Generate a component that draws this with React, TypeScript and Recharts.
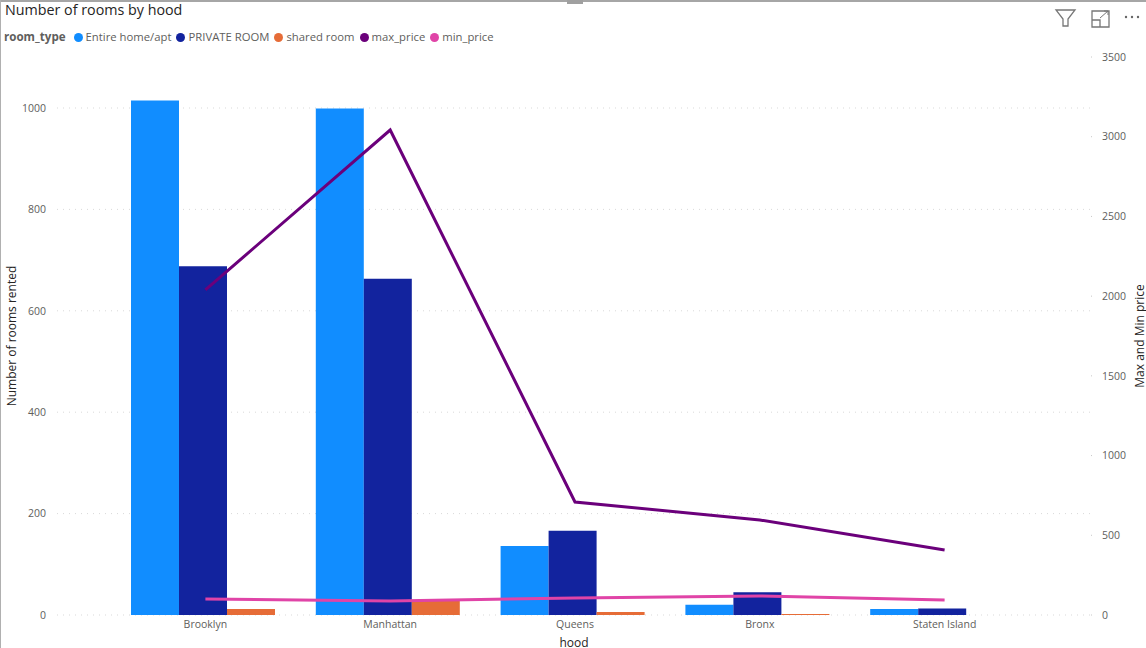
import {
  ComposedChart,
  Bar,
  Line,
  XAxis,
  YAxis,
  CartesianGrid
} from 'recharts'

const HOODS = ['Brooklyn', 'Manhattan', 'Queens', 'Bronx', 'Staten Island']
const ENTIRE_HOME = [1015, 999, 136, 20, 12]
const PRIVATE_ROOM = [688, 663, 166, 45, 13]
const SHARED_ROOM = [12, 28, 6, 2, 0]
const MAX_PRICE = [2039, 3042, 709, 596, 408]
const MIN_PRICE = [100, 88, 107, 119, 94]

const ROOM_TICKS = [0, 200, 400, 600, 800, 1000]
const PRICE_TICKS = [0, 500, 1000, 1500, 2000, 2500, 3000, 3500]

const LEGEND_NAMES = ['Entire home/apt', 'PRIVATE ROOM', 'shared room', 'max_price', 'min_price']
const LEGEND_COLORS = ['#118DFF', '#12239E', '#E66C37', '#6B007B', '#E044A7']

const FONT = '"Open Sans", "Noto Sans", sans-serif'

const chartData = HOODS.map((hood, i) => ({
  hood,
  entire: ENTIRE_HOME[i],
  privateRoom: PRIVATE_ROOM[i],
  shared: SHARED_ROOM[i],
  maxPrice: MAX_PRICE[i],
  minPrice: MIN_PRICE[i]
}))

function HeaderIcons() {
  return (
    <svg width={90} height={24} style={{ position: 'absolute', left: 1054, top: 6 }}>
      <path d="M2 4 H21 L14 13 V20 H9 V13 Z" fill="none" stroke="#777" strokeWidth={1.3} />
      <path d="M38 5 H55 V21 H38 Z M38 14 H46 V21" fill="none" stroke="#777" strokeWidth={1.3} />
      <path d="M46 12 L54 5 M50 5 H54 V9" fill="none" stroke="#777" strokeWidth={1} />
      <circle cx={72} cy={11} r={1.2} fill="#666" />
      <circle cx={78} cy={11} r={1.2} fill="#666" />
      <circle cx={84} cy={11} r={1.2} fill="#666" />
    </svg>
  )
}

export default function App() {
  return (
    <div
      style={{
        position: 'absolute',
        left: 0,
        top: 0,
        width: 1146,
        height: 648,
        overflow: 'hidden',
        background: '#fff',
        fontFamily: FONT
      }}
    >
      <div style={{ position: 'absolute', left: 0, top: 0, width: 1146, height: 2, background: '#a6a6a6' }} />
      <div style={{ position: 'absolute', left: 0, top: 0, width: 1, height: 648, background: '#b0b0b0' }} />
      <div style={{ position: 'absolute', left: 567, top: 0, width: 16, height: 4, background: '#a0a0a0' }} />

      <div style={{ position: 'absolute', left: 5, top: 0, fontSize: 14.3, lineHeight: '20px', color: '#252423' }}>
        Number of rooms by hood
      </div>

      <div
        style={{
          position: 'absolute',
          left: 4,
          top: 28,
          display: 'flex',
          alignItems: 'center',
          fontSize: 11.3,
          lineHeight: '18px',
          color: '#605E5C',
          whiteSpace: 'nowrap'
        }}
      >
        <span style={{ fontWeight: 700, fontSize: 11.6, marginRight: 8 }}>room_type</span>
        {LEGEND_NAMES.map((name, i) => (
          <span key={name} style={{ display: 'flex', alignItems: 'center', marginRight: 5 }}>
            <span
              style={{
                width: 9,
                height: 9,
                borderRadius: '50%',
                background: LEGEND_COLORS[i],
                marginRight: 3
              }}
            />
            {name}
          </span>
        ))}
      </div>

      <HeaderIcons />

      <ComposedChart
        width={1146}
        height={648}
        data={chartData}
        margin={{ top: 57, right: 0, bottom: 0, left: 0 }}
        barCategoryGap={21}
        barGap={0}
      >
        <CartesianGrid
          yAxisId="rooms"
          vertical={false}
          stroke="#d9d9d9"
          strokeDasharray="1 5"
          syncWithTicks
        />
        <XAxis
          dataKey="hood"
          height={33}
          padding={{ left: 56, right: 54 }}
          axisLine={false}
          tickLine={false}
          interval={0}
          tickMargin={0}
          tick={{ fontSize: 10.5, fill: '#605E5C', fontFamily: FONT }}
          label={{ value: 'hood', position: 'insideBottom', offset: 1, fontSize: 12, fill: '#252423', fontFamily: FONT }}
        />
        {/* bars sit a few px left of the line points in the original */}
        <XAxis xAxisId="bars" dataKey="hood" hide padding={{ left: 53, right: 57 }} />
        <YAxis
          yAxisId="rooms"
          width={57}
          domain={[0, 1100.6]}
          ticks={ROOM_TICKS}
          axisLine={false}
          tickLine={false}
          tickMargin={5}
          tick={{ fontSize: 10.5, fill: '#605E5C', fontFamily: FONT }}
          label={{ value: 'Number of rooms rented', angle: -90, position: 'insideLeft', offset: 12, fontSize: 12, fill: '#252423', fontFamily: FONT, style: { textAnchor: 'middle' } }}
        />
        <YAxis
          yAxisId="price"
          orientation="right"
          width={55}
          domain={[0, 3500]}
          ticks={PRICE_TICKS}
          axisLine={false}
          tickLine={{ stroke: '#c8c8c8' }}
          tickSize={1}
          tickMargin={10}
          tick={{ fontSize: 10.5, fill: '#605E5C', fontFamily: FONT }}
          label={{ value: 'Max and Min price', angle: -90, position: 'insideRight', offset: 6, fontSize: 12, fill: '#252423', fontFamily: FONT, style: { textAnchor: 'middle' } }}
        />
        <Bar xAxisId="bars" yAxisId="rooms" dataKey="entire" fill={LEGEND_COLORS[0]} isAnimationActive={false} />
        <Bar xAxisId="bars" yAxisId="rooms" dataKey="privateRoom" fill={LEGEND_COLORS[1]} isAnimationActive={false} />
        <Bar xAxisId="bars" yAxisId="rooms" dataKey="shared" fill={LEGEND_COLORS[2]} isAnimationActive={false} />
        <Line yAxisId="price" dataKey="maxPrice" stroke={LEGEND_COLORS[3]} strokeWidth={3} dot={false} isAnimationActive={false} />
        <Line yAxisId="price" dataKey="minPrice" stroke={LEGEND_COLORS[4]} strokeWidth={3} dot={false} isAnimationActive={false} />
      </ComposedChart>
    </div>
  )
}
